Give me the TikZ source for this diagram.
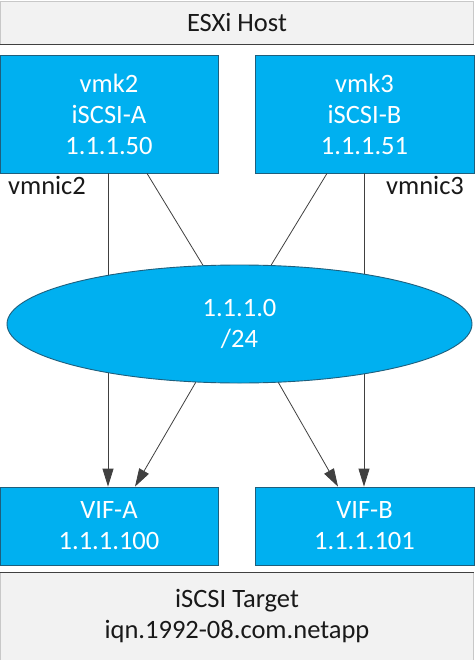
\documentclass[tikz,border=0pt]{standalone}
\usepackage{fontspec}
\setmainfont{Carlito}
\usetikzlibrary{arrows.meta,calc,shapes.geometric}
\definecolor{boxblue}{RGB}{0,176,240}
\definecolor{boxedge}{RGB}{30,95,125}
\definecolor{graybg}{RGB}{242,242,242}
\definecolor{grayedge}{RGB}{200,200,200}
\definecolor{darkline}{RGB}{64,64,64}
\begin{document}
\begin{tikzpicture}[x=1pt,y=-1pt,
  every node/.style={font=\fontsize{26.5}{31}\selectfont, align=center, inner sep=0pt},
  bluebox/.style={rectangle, fill=boxblue, draw=boxedge, line width=0.8pt, text=white},
  graybox/.style={rectangle, fill=graybg, draw=grayedge, line width=0.8pt, text=black!90},
  netell/.style={ellipse, fill=boxblue, draw=boxedge, line width=0.9pt, text=white},
  conn/.style={draw=darkline, line width=0.8pt},
  arr/.style={conn, -{Triangle[length=18pt,width=11pt]}},
  lbl/.style={text=black!90}
]
\useasboundingbox (0,0) rectangle (474,660);
\fill[white] (0,0) rectangle (474,660);

\node[graybox, minimum width=473pt, minimum height=43pt] (esxi) at (237,22.5) {ESXi Host};
\draw[darkline, line width=1.2pt] (esxi.south west) -- (esxi.south east);

\node[bluebox, minimum width=218pt, minimum height=118pt] (vmk2) at (109,114) {vmk2\\iSCSI-A\\1.1.1.50};
\node[bluebox, minimum width=219pt, minimum height=118pt] (vmk3) at (364.5,114) {vmk3\\iSCSI-B\\1.1.1.51};

\node[bluebox, minimum width=218pt, minimum height=78pt] (vifa) at (109,526) {VIF-A\\1.1.1.100};
\node[bluebox, minimum width=219pt, minimum height=78pt] (vifb) at (364.5,526) {VIF-B\\1.1.1.101};

\node[graybox, minimum width=473pt, minimum height=88pt] (target) at (237,616.5) {iSCSI Target\\iqn.1992-08.com.netapp};
\draw[darkline, line width=1.2pt] (target.north west) -- (target.north east);

\node[lbl] (nic2) at (47,185) {vmnic2};
\node[lbl] (nic3) at (425,185) {vmnic3};

% connectors (drawn before the ellipse so it covers them)
\coordinate (netc) at (239.5,324);
\draw[arr] ([xshift=-1pt]vmk2.south) -- ([xshift=-1pt]vifa.north);
\draw[arr] ([xshift=-0.5pt]vmk3.south) -- ([xshift=-0.5pt]vifb.north);
\draw[conn] ([xshift=38pt]vmk2.south) -- ($(netc)+(-35.5,-57)$);
\draw[conn] ([xshift=-37.5pt]vmk3.south) -- ($(netc)+(30.5,-57)$);
\draw[arr] ($(netc)+(-43,57)$) -- ([xshift=26pt]vifa.north);
\draw[arr] ($(netc)+(38,57)$) -- ([xshift=-26.5pt]vifb.north);

\node[netell, minimum width=465pt, minimum height=118pt] (net) at (netc) {1.1.1.0\\/24};
\end{tikzpicture}
\end{document}
